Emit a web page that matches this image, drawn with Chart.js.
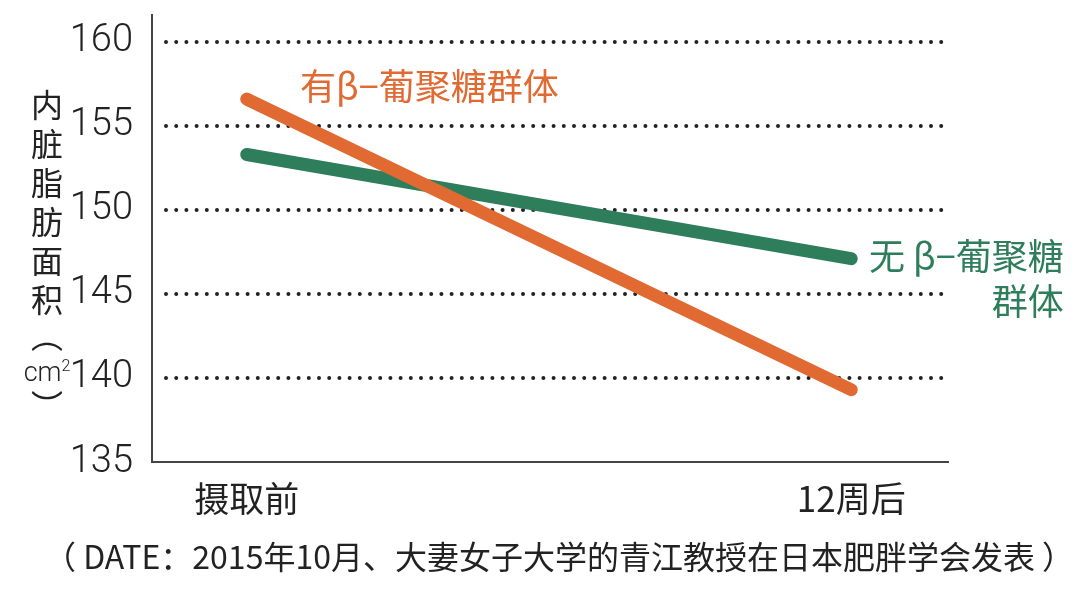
<!DOCTYPE html>
<html>
<head>
<meta charset="utf-8">
<script src="https://cdn.jsdelivr.net/npm/chart.js@4/dist/chart.umd.min.js"></script>
<style>
  html, body { margin: 0; padding: 0; background: #fff; }
  #wrap { position: relative; width: 1080px; height: 603px; overflow: hidden; }
  canvas { position: absolute; left: 0; top: 0; }
  .txt { position: absolute; font-family: "Noto Sans CJK SC", sans-serif; white-space: nowrap; }
  #ytitle { left: 20px; top: 84px; width: 54px; text-align: center; font-size: 32px; line-height: 39px; color: #222; }
  #ytitle .br { display: block; line-height: 32px; }
  #ytitle .cm { display: block; line-height: 32px; font-family: Roboto, "Liberation Sans", sans-serif; font-weight: 300; font-size: 27px; }
  #ytitle sup { font-size: 16px; vertical-align: 10px; }
  #lblA { left: 300px; top: 58px; font-size: 36px; color: #E06A32; }
  #lblB { left: 869px; top: 232px; font-size: 36px; line-height: 45px; color: #2E7D5B; text-align: right; }
  #note { left: 44px; top: 532px; font-size: 32px; color: #222; }
</style>
</head>
<body>
<div id="wrap">
  <canvas id="c" width="1080" height="603"></canvas>
  <div id="ytitle" class="txt">内<br>脏<br>脂<br>肪<br>面<br>积<span class="br">︵</span><span class="cm">cm<sup>2</sup></span><span class="br">︶</span></div>
  <div id="lblA" class="txt">有β−葡聚糖群体</div>
  <div id="lblB" class="txt">无 β−葡聚糖<br>群体</div>
  <div id="note" class="txt">（ DATE：2015年10月、大妻女子大学的青江教授在日本肥胖学会发表 ）</div>
</div>
<script>
const categories = ["摄取前", "12周后"];
const withGlucan = [156.6, 139.3];
const withoutGlucan = [153.3, 147.1];
const yTicks = [135, 140, 145, 150, 155, 160];

// dotted grid lines, drawn from the y scale
const dottedGrid = {
  id: "dottedGrid",
  beforeDatasetsDraw(chart) {
    const { ctx, chartArea, scales } = chart;
    ctx.save();
    ctx.strokeStyle = "#222";
    ctx.lineWidth = 4;
    ctx.lineCap = "round";
    ctx.setLineDash([0, 10.2]);
    yTicks.forEach((v) => {
      if (v === yTicks[0]) return;
      const y = Math.round(scales.y.getPixelForValue(v));
      ctx.beginPath();
      ctx.moveTo(chartArea.left + 14, y);
      ctx.lineTo(chartArea.right, y);
      ctx.stroke();
    });
    ctx.restore();
  },
};

const toPoints = (arr) => arr.map((v, i) => ({ x: i, y: v }));

new Chart(document.getElementById("c"), {
  type: "line",
  data: {
    datasets: [
      {
        label: "有β−葡聚糖群体",
        data: toPoints(withGlucan),
        borderColor: "#E06A32",
        borderWidth: 13,
        borderCapStyle: "round",
        pointRadius: 0,
        tension: 0,
      },
      {
        label: "无 β−葡聚糖群体",
        data: toPoints(withoutGlucan),
        borderColor: "#2E7D5B",
        borderWidth: 13,
        borderCapStyle: "round",
        pointRadius: 0,
        tension: 0,
      },
    ],
  },
  options: {
    responsive: false,
    animation: false,
    layout: { padding: { top: 15, right: 132, left: 0, bottom: 0 } },
    plugins: { legend: { display: false }, tooltip: { enabled: false } },
    scales: {
      x: {
        type: "linear",
        min: -0.1567,
        max: 1.16,
        afterBuildTicks: (s) => { s.ticks = categories.map((_, i) => ({ value: i })); },
        afterFit: (s) => { s.height = 141; s.paddingLeft = 0; s.paddingRight = 0; },
        ticks: {
          padding: 16,
          color: "#222",
          font: { family: "'Noto Sans CJK SC', sans-serif", size: 35 },
          callback: (v) => categories[v],
        },
        grid: { display: false, drawTicks: false },
        border: { display: true, color: "#444", width: 2 },
      },
      y: {
        min: 135,
        max: 161.6,
        afterBuildTicks: (s) => { s.ticks = yTicks.map((v) => ({ value: v })); },
        afterFit: (s) => { s.width = 152; s.paddingTop = 0; s.paddingBottom = 0; },
        ticks: {
          padding: 19,
          color: "#222",
          font: { family: "Roboto, 'Liberation Sans', sans-serif", size: 38, weight: 300 },
        },
        grid: { display: false, drawTicks: false },
        border: { display: true, color: "#444", width: 2 },
      },
    },
  },
  plugins: [dottedGrid],
});
</script>
</body>
</html>
